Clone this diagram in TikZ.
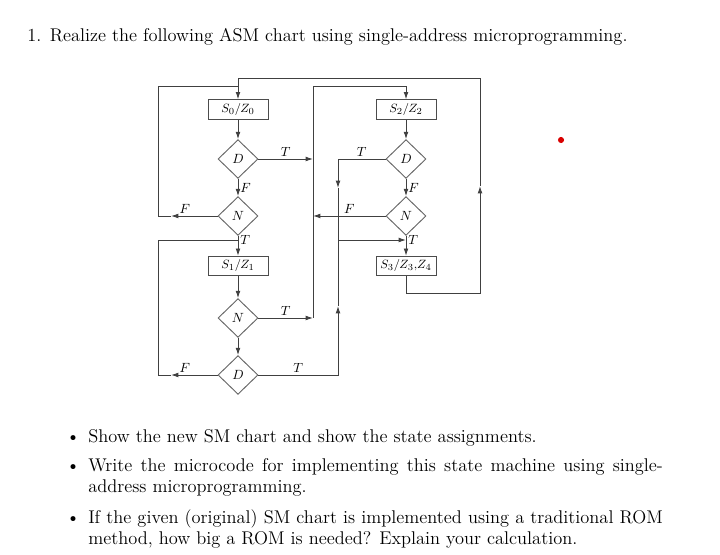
\documentclass[tikz,border=0pt]{standalone}
\usepackage{amsmath,amssymb}
\usepackage{tikz}
\usetikzlibrary{shapes.geometric,arrows.meta}

\begin{document}
\begin{tikzpicture}[x=0.75pt,y=-0.75pt,auto,
    line/.style={draw=black!75,line width=0.7pt},
    arr/.style={line,-{Latex[length=5.5pt,width=3.6pt]}},
    state/.style={draw=black!70,line width=0.7pt,minimum width=45pt,minimum height=14.5pt,inner sep=0pt,font=\fontsize{9.5}{10}\selectfont},
    dec/.style={diamond,draw=black!60,line width=0.7pt,minimum width=30pt,minimum height=29pt,inner sep=0pt,font=\fontsize{10}{11}\selectfont},
    lbl/.style={font=\fontsize{10}{11}\selectfont,inner sep=1.5pt},
    txt/.style={font=\fontsize{13.8}{15.75}\selectfont,inner sep=0pt},
    item/.style={txt,anchor=base west,text width=431pt,align=justify}]
  \useasboundingbox (0,0) rectangle (720,555);

  % question text
  \node[txt,anchor=base west] (title) at (27,42) {1.\hspace{6.4pt}Realize the following ASM chart using single-address microprogramming.};
  \node[item] (q1) at (88,442) {\llap{\textbullet\hspace{6pt}}Show the new SM chart and show the state assignments.};
  \node[item] (q2) at (88,471) {\llap{\textbullet\hspace{6pt}}Write the microcode for implementing this state machine using single-\linebreak address microprogramming.};
  \node[item] (q3) at (88,523) {\llap{\textbullet\hspace{6pt}}If the given (original) SM chart is \mbox{implemented} using a traditional ROM\linebreak method, how big a ROM is needed? Explain your calculation.};

  % boxes and decisions
  \node[state] (s0) at (238,109.5) {$S_0/Z_0$};
  \node[dec] (d0) at (238,159) {$D$};
  \node[dec] (n0) at (238,216) {$N$};
  \node[state] (s1) at (238,266) {$S_1/Z_1$};
  \node[dec] (n1) at (238,318) {$N$};
  \node[dec] (d1) at (238,375) {$D$};
  \node[state] (s2) at (406,109.5) {$S_2/Z_2$};
  \node[dec] (d2) at (406,159) {$D$};
  \node[dec] (n2) at (406,216) {$N$};
  \node[state] (s3) at (406,266) {$S_3/Z_3{,}Z_4$};

  % bends
  \coordinate (lp1) at (158,86); \coordinate (fa) at (171,216);
  \coordinate (lp2) at (158,240); \coordinate (fb) at (171,375);
  \coordinate (v1t) at (313,86); \coordinate (v1b) at (313,318);
  \coordinate (v2t) at (338,159); \coordinate (v2d) at (338,188);
  \coordinate (v2m) at (338,240); \coordinate (v2u) at (338,306);
  \coordinate (v2b) at (338,375);
  \coordinate (r0) at (480,293); \coordinate (ua) at (480,186);
  \coordinate (r1) at (480,78);

  % left column
  \draw[arr] (s0) -- (d0);
  \draw[arr] (d0) -- node[lbl,right] {$F$} (n0);
  \draw[arr] (n0) -- node[lbl,right,pos=0.2] {$T$} (s1);
  \draw[arr] (s1) -- (n1);
  \draw[arr] (n1) -- (d1);
  \draw[arr] (n0.west) -- node[lbl,above,pos=0.7] {$F$} (fa);
  \draw[line] (fa) -| (lp1) -- (lp1 -| s0.north);
  \draw[arr] (d1.west) -- node[lbl,above,pos=0.7] {$F$} (fb);
  \draw[line] (fb) -| (lp2) -- (lp2 -| s1.north);

  % right column
  \draw[arr] (s2) -- (d2);
  \draw[arr] (d2) -- node[lbl,right] {$F$} (n2);
  \draw[arr] (n2) -- node[lbl,right,pos=0.2] {$T$} (s3);

  % to S2
  \draw[arr] (d0.east) -- node[lbl,above] {$T$} (d0.east -| v1t);
  \draw[arr] (n2.west) -- node[lbl,above] {$F$} (n2.west -| v1t);
  \draw[arr] (n1.east) -- node[lbl,above] {$T$} (v1b);
  \draw[arr] (v1b) -- (v1t) -| (s2.north);

  % to S3
  \draw[arr] (d2.west) -- node[lbl,above,swap] {$T$} (v2t) -- (v2d);
  \draw[line] (v2d) -- (v2m);
  \draw[arr] (d1.east) -- node[lbl,above] {$T$} (v2b) -- (v2u);
  \draw[line] (v2u) -- (v2m);
  \draw[arr] (v2m) -- (v2m -| s3.north);

  % back to S0
  \draw[arr] (s3.south) |- (r0) -- (ua);
  \draw[arr] (ua) -- (r1) -| (s0.north);

  \fill[red!85!black] (561,140) circle (2.3pt);
\end{tikzpicture}
\end{document}
